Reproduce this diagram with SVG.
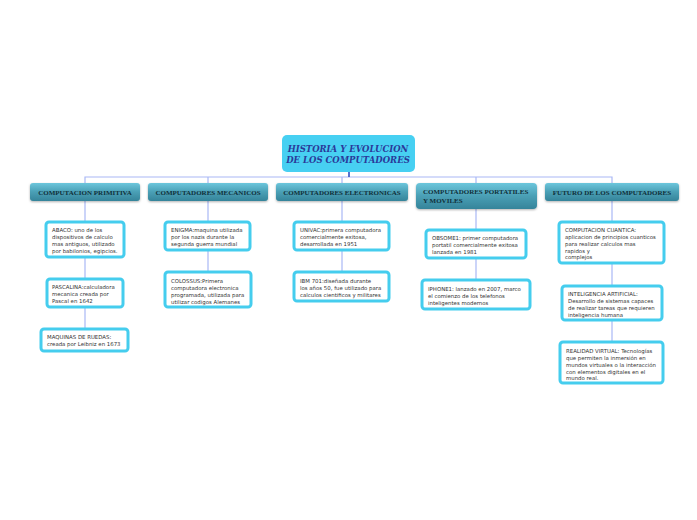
<svg xmlns="http://www.w3.org/2000/svg" width="697" height="520" viewBox="0 0 697 520">
<defs>
<linearGradient id="g" x1="0" y1="0" x2="0" y2="1"><stop offset="0" stop-color="#6cc6dc"/><stop offset="0.5" stop-color="#4a9fb5"/><stop offset="1" stop-color="#35849a"/></linearGradient>
<filter id="sh" x="-10%" y="-20%" width="120%" height="150%"><feDropShadow dx="0" dy="1" stdDeviation="1" flood-color="#000" flood-opacity="0.3"/></filter>
</defs>
<style>
.cat{fill:url(#g);filter:url(#sh)}
.ct{font-family:"Liberation Serif",serif;font-size:7px;font-weight:bold;fill:#10303a}
.box{fill:#fff;stroke:#45cdee;stroke-width:3}
.t{font-family:"DejaVu Sans",sans-serif;font-size:5.4px;fill:#333}
.ln{stroke:#a9b8f5;stroke-width:1.2;fill:none}
</style>
<rect width="697" height="520" fill="#fff"/>
<g id="connectors">
<path class="ln" d="M349 172V177M85 183V177H612V183M208 177V183M342 177V183M476 177V183"/>
<path class="ln" d="M85 201V329M208 201V272M342 201V272M476 209V280M612 201V342"/>
<path d="M349 172v5" stroke="#3050c0" stroke-width="1.5"/>
</g>
<g id="root"><rect x="282" y="135" width="133" height="37" rx="5" fill="#47d0f2"/>
<text x="348" y="152" text-anchor="middle" font-family="'DejaVu Serif',serif" font-style="italic" font-weight="bold" font-size="8.5" fill="#2a3a9a">HISTORIA Y EVOLUCION</text>
<text x="348" y="163" text-anchor="middle" font-family="'DejaVu Serif',serif" font-style="italic" font-weight="bold" font-size="8.5" fill="#2a3a9a">DE LOS COMPUTADORES</text></g>
<g id="c1"><rect class="cat" x="30" y="183" width="110" height="18" rx="3"/><text class="ct" x="85" y="195" text-anchor="middle">COMPUTACION PRIMITIVA</text></g>
<g id="c2"><rect class="cat" x="148" y="183" width="120" height="18" rx="3"/><text class="ct" x="208" y="195" text-anchor="middle">COMPUTADORES MECANICOS</text></g>
<g id="c3"><rect class="cat" x="276" y="183" width="132" height="18" rx="3"/><text class="ct" x="342" y="195" text-anchor="middle">COMPUTADORES ELECTRONICAS</text></g>
<g id="c4"><rect class="cat" x="416" y="183" width="121" height="26" rx="4"/><text class="ct" x="423" y="194">COMPUTADORES PORTATILES</text><text class="ct" x="423" y="203">Y MOVILES</text></g>
<g id="c5"><rect class="cat" x="545" y="183" width="134" height="18" rx="3"/><text class="ct" x="612" y="195" text-anchor="middle">FUTURO DE LOS COMPUTADORES</text></g>
<g id="n1"><rect class="box" x="46" y="222" width="78" height="35" rx="3"/><text class="t" x="52" y="232">ABACO: uno de los</text><text class="t" x="52" y="239">dispositivos de calculo</text><text class="t" x="52" y="246">mas antiguos, utilizado</text><text class="t" x="52" y="253">por babilonios, egipcios.</text></g>
<g id="n2"><rect class="box" x="47" y="279" width="76" height="28" rx="3"/><text class="t" x="52" y="289">PASCALINA:calculadora</text><text class="t" x="52" y="296">mecanica creada por</text><text class="t" x="52" y="303">Pascal en 1642</text></g>
<g id="n3"><rect class="box" x="41" y="329" width="87" height="22" rx="3"/><text class="t" x="47" y="339">MAQUINAS DE RUEDAS:</text><text class="t" x="47" y="346">creada por Leibniz en 1673</text></g>
<g id="n4"><rect class="box" x="165" y="222" width="85" height="28" rx="3"/><text class="t" x="171" y="232">ENIGMA:maquina utilizada</text><text class="t" x="171" y="239">por los nazis durante la</text><text class="t" x="171" y="246">segunda guerra mundial</text></g>
<g id="n5"><rect class="box" x="165" y="272" width="86" height="35" rx="3"/><text class="t" x="171" y="283">COLOSSUS:Primera</text><text class="t" x="171" y="290">computadora electronica</text><text class="t" x="171" y="297">programada, utilizada para</text><text class="t" x="171" y="304">utilizar codigos Alemanes</text></g>
<g id="n6"><rect class="box" x="294" y="222" width="95" height="28" rx="3"/><text class="t" x="300" y="232">UNIVAC:primera computadora</text><text class="t" x="300" y="239">comercialmente exitosa,</text><text class="t" x="300" y="246">desarrollada en 1951</text></g>
<g id="n7"><rect class="box" x="294" y="272" width="95" height="29" rx="3"/><text class="t" x="300" y="283">IBM 701:diseñada durante</text><text class="t" x="300" y="290">los años 50, fue utilizado para</text><text class="t" x="300" y="297">calculos cientificos y militares</text></g>
<g id="n8"><rect class="box" x="426" y="230" width="100" height="28" rx="3"/><text class="t" x="432" y="240">OBSOME1: primer computadora</text><text class="t" x="432" y="247">portatil comercialmente exitosa</text><text class="t" x="432" y="254">lanzada en 1981</text></g>
<g id="n9"><rect class="box" x="422" y="280" width="108" height="29" rx="3"/><text class="t" x="428" y="291">IPHONE1: lanzado en 2007, marco</text><text class="t" x="428" y="298">el comienzo de los telefonos</text><text class="t" x="428" y="305">inteligentes modernos</text></g>
<g id="n10"><rect class="box" x="559" y="222" width="105" height="41" rx="3"/><text class="t" x="565" y="232">COMPUTACION CUANTICA:</text><text class="t" x="565" y="239">aplicacion de principios cuanticos</text><text class="t" x="565" y="246">para realizar calculos mas</text><text class="t" x="565" y="253">rapidos y</text><text class="t" x="565" y="259">complejos</text></g>
<g id="n11"><rect class="box" x="562" y="286" width="100" height="34" rx="3"/><text class="t" x="568" y="296">INTELIGENCIA ARTIFICIAL:</text><text class="t" x="568" y="303">Desarrollo de sistemas capaces</text><text class="t" x="568" y="310">de realizar tareas que requieren</text><text class="t" x="568" y="317">inteligencia humana</text></g>
<g id="n12"><rect class="box" x="560" y="342" width="103" height="41" rx="3"/><text class="t" x="566" y="353">REALIDAD VIRTUAL: Tecnologías</text><text class="t" x="566" y="360">que permiten la inmersión en</text><text class="t" x="566" y="367">mundos virtuales o la interacción</text><text class="t" x="566" y="374">con elementos digitales en el</text><text class="t" x="566" y="380">mundo real.</text></g>
</svg>
